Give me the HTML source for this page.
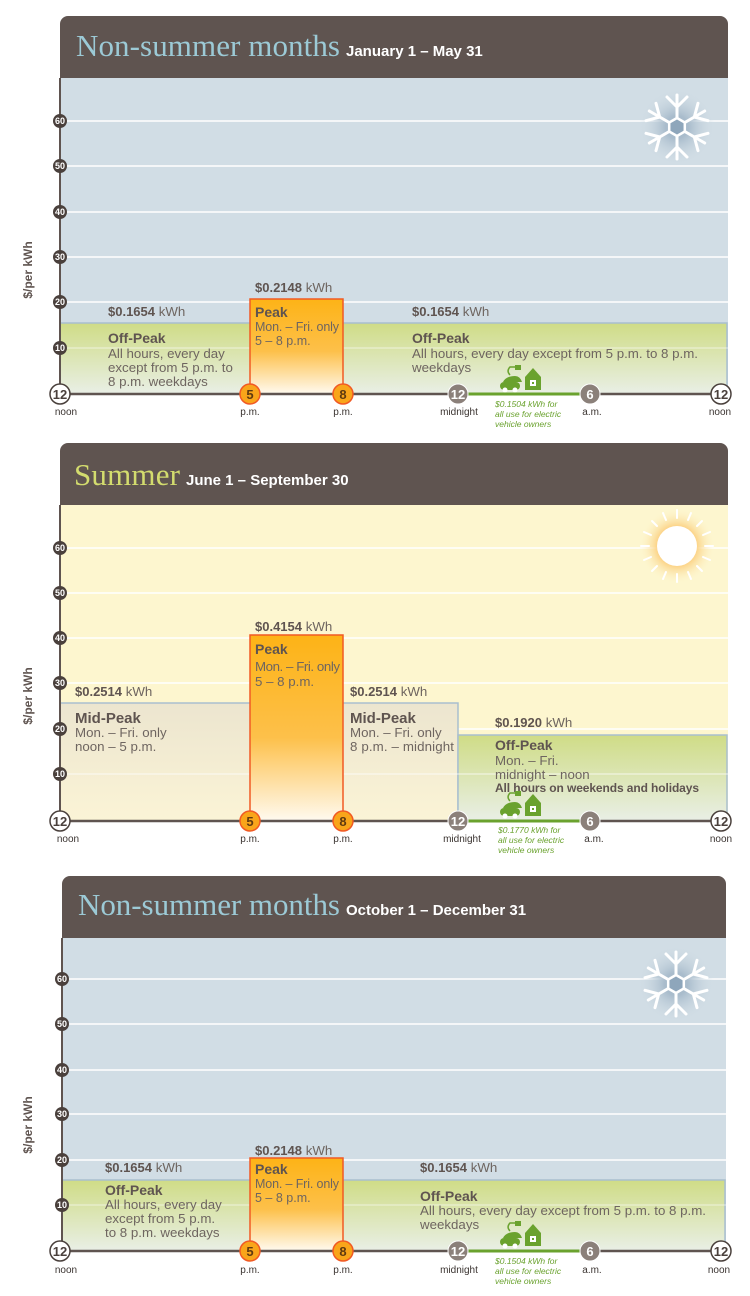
<!DOCTYPE html>
<html><head><meta charset="utf-8">
<style>
html,body{margin:0;padding:0;background:#fff;}
svg{display:block;}
text{font-family:"Liberation Sans",sans-serif;}
.t{font-size:13.3px;fill:#6e6560;}
.b{font-size:13px;font-weight:bold;fill:#5f5450;}
.h{font-size:14px;font-weight:bold;fill:#5f5450;}
.sm{font-size:10px;fill:#3a3330;}
.g{font-size:8.5px;fill:#6aa22e;font-style:italic;}
.ax{font-size:9px;font-weight:bold;fill:#fff;}
.ttl{font-family:"Liberation Serif",serif;font-size:31px;}
.sub{font-size:15px;font-weight:bold;fill:#fff;}
</style></head><body>
<svg width="750" height="1296" viewBox="0 0 750 1296" xmlns="http://www.w3.org/2000/svg">
<defs>
<linearGradient id="grn" x1="0" y1="0" x2="0" y2="1"><stop offset="0" stop-color="#cfdc86"/><stop offset="1" stop-color="#e9efe6"/></linearGradient>
<linearGradient id="org" x1="0" y1="0" x2="0" y2="1"><stop offset="0" stop-color="#fdb316"/><stop offset="0.55" stop-color="#fdc04a"/><stop offset="1" stop-color="#fffaf0"/></linearGradient>
<linearGradient id="mid" x1="0" y1="0" x2="0" y2="1"><stop offset="0" stop-color="#ece5cf"/><stop offset="1" stop-color="#fbf4d6"/></linearGradient>
<radialGradient id="glow"><stop offset="0.3" stop-color="#a9bccc"/><stop offset="1" stop-color="#d1dde5" stop-opacity="0"/></radialGradient>
<radialGradient id="sglow"><stop offset="0.45" stop-color="#fbc870"/><stop offset="1" stop-color="#fdf6cf" stop-opacity="0"/></radialGradient>
<g id="flake" stroke="#fff" stroke-width="3" stroke-linecap="round" fill="none">
<circle r="38" fill="url(#glow)" stroke="none"/>
<polygon points="0,-9 7.8,-4.5 7.8,4.5 0,9 -7.8,4.5 -7.8,-4.5" fill="#8ea6bb" stroke-width="2.5"/>
<g id="arm"><line x1="0" y1="-9" x2="0" y2="-32"/><line x1="0" y1="-20" x2="-10" y2="-30"/><line x1="0" y1="-20" x2="10" y2="-30"/></g>
<use href="#arm" transform="rotate(60)"/><use href="#arm" transform="rotate(120)"/><use href="#arm" transform="rotate(180)"/><use href="#arm" transform="rotate(240)"/><use href="#arm" transform="rotate(300)"/>
</g>
<g id="ev">
<rect x="-22" y="-10" width="20" height="8" rx="4" fill="#6aa22e"/>
<path d="M-19,-10 q3,-6 12,-6 q5,0 7,6z" fill="#6aa22e"/>
<circle cx="-17" cy="-2" r="2.5" fill="#fff"/><circle cx="-7" cy="-2" r="2.5" fill="#fff"/>
<path d="M-12,-17 q-4,-4 0,-8 h6" stroke="#6aa22e" stroke-width="1.5" fill="none"/>
<rect x="-7" y="-27" width="6" height="5" fill="#6aa22e"/>
<path d="M3,-2 v-13 l8,-9 l8,9 v13z" fill="#6aa22e"/>
<rect x="8" y="-12" width="6" height="6" fill="#fff"/><rect x="10" y="-10" width="2" height="2" fill="#6aa22e"/>
</g>
</defs>

<!-- ============ PANEL 1 ============ -->
<path d="M60,78 V24 a8,8 0 0 1 8,-8 H720 a8,8 0 0 1 8,8 V78z" fill="#5f5450"/>
<text x="76" y="56" class="ttl" fill="#9ccad6" textLength="264">Non-summer months</text>
<text x="346" y="56" class="sub">January 1 – May 31</text>
<rect x="60" y="78" width="668" height="316" fill="#d1dde5"/>
<g stroke="#fff" stroke-width="1.5"><line x1="60" y1="121" x2="728" y2="121"/><line x1="60" y1="166" x2="728" y2="166"/><line x1="60" y1="212" x2="728" y2="212"/><line x1="60" y1="257" x2="728" y2="257"/><line x1="60" y1="302" x2="728" y2="302"/></g>
<rect x="60" y="323" width="667" height="71" fill="url(#grn)" stroke="#a9bfcf" stroke-width="1.5"/>
<line x1="60" y1="348" x2="728" y2="348" stroke="#fff" stroke-opacity="0.4" stroke-width="1.5"/>
<rect x="250" y="299" width="93" height="95" fill="url(#org)" stroke="#f15a24" stroke-width="1.5"/>
<use href="#flake" x="677" y="127"/>
<text x="108" y="316" class="t"><tspan class="b">$0.1654</tspan> kWh</text>
<text x="255" y="292" class="t"><tspan class="b">$0.2148</tspan> kWh</text>
<text x="412" y="316" class="t"><tspan class="b">$0.1654</tspan> kWh</text>
<text x="108" y="343" class="h">Off-Peak</text>
<text x="108" y="358" class="t">All hours, every day</text>
<text x="108" y="372" class="t">except from 5 p.m. to</text>
<text x="108" y="386" class="t">8 p.m. weekdays</text>
<text x="255" y="317" class="h">Peak</text>
<text x="255" y="331" class="t" style="font-size:12.5px" textLength="84">Mon. – Fri. only</text>
<text x="255" y="345" class="t" style="font-size:12.5px">5 – 8 p.m.</text>
<text x="412" y="343" class="h">Off-Peak</text>
<text x="412" y="358" class="t">All hours, every day except from 5 p.m. to 8 p.m.</text>
<text x="412" y="372" class="t">weekdays</text>
<line x1="60" y1="394" x2="728" y2="394" stroke="#5f5450" stroke-width="2.5"/>
<line x1="60" y1="78" x2="60" y2="394" stroke="#5f5450" stroke-width="2"/>
<line x1="458" y1="394" x2="590" y2="394" stroke="#6aa22e" stroke-width="3"/>
<use href="#ev" x="522" y="392"/>
<text x="495" y="407" class="g">$0.1504 kWh for</text><text x="495" y="417" class="g">all use for electric</text><text x="495" y="427" class="g">vehicle owners</text>

<!-- ============ PANEL 2 ============ -->
<path d="M60,505 V451 a8,8 0 0 1 8,-8 H720 a8,8 0 0 1 8,8 V505z" fill="#5f5450"/>
<text x="74" y="485" class="ttl" fill="#d3dc6e" textLength="106">Summer</text>
<text x="186" y="485" class="sub">June 1 – September 30</text>
<rect x="60" y="505" width="668" height="316" fill="#fdf6cf"/>
<g stroke="#fff" stroke-width="1.5"><line x1="60" y1="548" x2="728" y2="548"/><line x1="60" y1="593" x2="728" y2="593"/><line x1="60" y1="638" x2="728" y2="638"/><line x1="60" y1="683" x2="728" y2="683"/><line x1="60" y1="729" x2="728" y2="729"/></g>
<rect x="60" y="703" width="398" height="118" fill="url(#mid)" stroke="#a9bfcf" stroke-width="1.5"/>
<rect x="458" y="735" width="269" height="86" fill="url(#grn)" stroke="#a9bfcf" stroke-width="1.5"/>
<line x1="60" y1="774" x2="728" y2="774" stroke="#fff" stroke-opacity="0.5" stroke-width="1.5"/>
<rect x="250" y="635" width="93" height="186" fill="url(#org)" stroke="#f15a24" stroke-width="1.5"/>
<circle cx="677" cy="546" r="38" fill="url(#sglow)"/>
<g stroke="#fff" stroke-width="2" stroke-linecap="round">
<line x1="677" y1="510" x2="677" y2="518"/><line x1="677" y1="574" x2="677" y2="582"/><line x1="641" y1="546" x2="649" y2="546"/><line x1="705" y1="546" x2="713" y2="546"/>
<line x1="652" y1="521" x2="657" y2="526"/><line x1="697" y1="566" x2="702" y2="571"/><line x1="702" y1="521" x2="697" y2="526"/><line x1="657" y1="566" x2="652" y2="571"/>
<line x1="663" y1="513" x2="666" y2="520"/><line x1="691" y1="513" x2="688" y2="520"/><line x1="663" y1="579" x2="666" y2="572"/><line x1="691" y1="579" x2="688" y2="572"/>
<line x1="644" y1="532" x2="651" y2="535"/><line x1="644" y1="560" x2="651" y2="557"/><line x1="710" y1="532" x2="703" y2="535"/><line x1="710" y1="560" x2="703" y2="557"/>
</g>
<circle cx="677" cy="546" r="20" fill="#fff"/>
<text x="75" y="696" class="t"><tspan class="b">$0.2514</tspan> kWh</text>
<text x="255" y="631" class="t"><tspan class="b">$0.4154</tspan> kWh</text>
<text x="350" y="696" class="t"><tspan class="b">$0.2514</tspan> kWh</text>
<text x="495" y="727" class="t"><tspan class="b">$0.1920</tspan> kWh</text>
<text x="75" y="723" class="h" style="font-size:15px">Mid-Peak</text>
<text x="75" y="737" class="t">Mon. – Fri. only</text>
<text x="75" y="751" class="t">noon – 5 p.m.</text>
<text x="255" y="654" class="h">Peak</text>
<text x="255" y="671" class="t" textLength="85">Mon. – Fri. only</text>
<text x="255" y="686" class="t">5 – 8 p.m.</text>
<text x="350" y="723" class="h" style="font-size:15px">Mid-Peak</text>
<text x="350" y="737" class="t">Mon. – Fri. only</text>
<text x="350" y="751" class="t" textLength="104">8 p.m. – midnight</text>
<text x="495" y="750" class="h">Off-Peak</text>
<text x="495" y="765" class="t">Mon. – Fri.</text>
<text x="495" y="779" class="t">midnight  – noon</text>
<text x="495" y="792" class="h" style="font-size:12px" textLength="204">All hours on weekends and holidays</text>
<line x1="60" y1="821" x2="728" y2="821" stroke="#5f5450" stroke-width="2.5"/>
<line x1="60" y1="505" x2="60" y2="821" stroke="#5f5450" stroke-width="2"/>
<line x1="458" y1="821" x2="590" y2="821" stroke="#6aa22e" stroke-width="3"/>
<use href="#ev" x="522" y="818"/>
<text x="498" y="833" class="g">$0.1770 kWh for</text><text x="498" y="843" class="g">all use for electric</text><text x="498" y="853" class="g">vehicle owners</text>

<!-- ============ PANEL 3 ============ -->
<path d="M62,938 V884 a8,8 0 0 1 8,-8 H718 a8,8 0 0 1 8,8 V938z" fill="#5f5450"/>
<text x="78" y="915" class="ttl" fill="#9ccad6" textLength="262">Non-summer months</text>
<text x="346" y="915" class="sub">October 1 – December 31</text>
<rect x="62" y="938" width="664" height="313" fill="#d1dde5"/>
<g stroke="#fff" stroke-width="1.5"><line x1="62" y1="979" x2="726" y2="979"/><line x1="62" y1="1024" x2="726" y2="1024"/><line x1="62" y1="1070" x2="726" y2="1070"/><line x1="62" y1="1114" x2="726" y2="1114"/><line x1="62" y1="1160" x2="726" y2="1160"/></g>
<rect x="62" y="1180" width="663" height="71" fill="url(#grn)" stroke="#a9bfcf" stroke-width="1.5"/>
<line x1="62" y1="1205" x2="726" y2="1205" stroke="#fff" stroke-opacity="0.4" stroke-width="1.5"/>
<rect x="250" y="1158" width="93" height="93" fill="url(#org)" stroke="#f15a24" stroke-width="1.5"/>
<use href="#flake" x="676" y="984"/>
<text x="105" y="1172" class="t"><tspan class="b">$0.1654</tspan> kWh</text>
<text x="255" y="1155" class="t"><tspan class="b">$0.2148</tspan> kWh</text>
<text x="420" y="1172" class="t"><tspan class="b">$0.1654</tspan> kWh</text>
<text x="105" y="1195" class="h">Off-Peak</text>
<text x="105" y="1209" class="t">All hours, every day</text>
<text x="105" y="1223" class="t">except from 5 p.m.</text>
<text x="105" y="1237" class="t">to 8 p.m. weekdays</text>
<text x="255" y="1174" class="h">Peak</text>
<text x="255" y="1188" class="t" style="font-size:12.5px" textLength="84">Mon. – Fri. only</text>
<text x="255" y="1202" class="t" style="font-size:12.5px">5 – 8 p.m.</text>
<text x="420" y="1201" class="h">Off-Peak</text>
<text x="420" y="1215" class="t">All hours, every day except from 5 p.m. to 8 p.m.</text>
<text x="420" y="1229" class="t">weekdays</text>
<line x1="62" y1="1251" x2="726" y2="1251" stroke="#5f5450" stroke-width="2.5"/>
<line x1="62" y1="938" x2="62" y2="1251" stroke="#5f5450" stroke-width="2"/>
<line x1="458" y1="1251" x2="590" y2="1251" stroke="#6aa22e" stroke-width="3"/>
<use href="#ev" x="522" y="1248"/>
<text x="495" y="1264" class="g">$0.1504 kWh for</text><text x="495" y="1274" class="g">all use for electric</text><text x="495" y="1284" class="g">vehicle owners</text>

<!-- axis labels -->
<text transform="translate(32,270) rotate(-90)" text-anchor="middle" style="font-size:12px;font-weight:bold;fill:#5f5450">$/per kWh</text>
<text transform="translate(32,696) rotate(-90)" text-anchor="middle" style="font-size:12px;font-weight:bold;fill:#5f5450">$/per kWh</text>
<text transform="translate(32,1125) rotate(-90)" text-anchor="middle" style="font-size:12px;font-weight:bold;fill:#5f5450">$/per kWh</text>

<!-- y ticks -->
<g fill="#4a403c">
<circle cx="60" cy="121" r="7"/><circle cx="60" cy="166" r="7"/><circle cx="60" cy="212" r="7"/><circle cx="60" cy="257" r="7"/><circle cx="60" cy="302" r="7"/><circle cx="60" cy="348" r="7"/>
<circle cx="60" cy="548" r="7"/><circle cx="60" cy="593" r="7"/><circle cx="60" cy="638" r="7"/><circle cx="60" cy="683" r="7"/><circle cx="60" cy="729" r="7"/><circle cx="60" cy="774" r="7"/>
<circle cx="62" cy="979" r="7"/><circle cx="62" cy="1024" r="7"/><circle cx="62" cy="1070" r="7"/><circle cx="62" cy="1114" r="7"/><circle cx="62" cy="1160" r="7"/><circle cx="62" cy="1205" r="7"/>
</g>
<g text-anchor="middle">
<text x="60" y="124" class="ax">60</text><text x="60" y="169" class="ax">50</text><text x="60" y="215" class="ax">40</text><text x="60" y="260" class="ax">30</text><text x="60" y="305" class="ax">20</text><text x="60" y="351" class="ax">10</text>
<text x="60" y="551" class="ax">60</text><text x="60" y="596" class="ax">50</text><text x="60" y="641" class="ax">40</text><text x="60" y="686" class="ax">30</text><text x="60" y="732" class="ax">20</text><text x="60" y="777" class="ax">10</text>
<text x="62" y="982" class="ax">60</text><text x="62" y="1027" class="ax">50</text><text x="62" y="1073" class="ax">40</text><text x="62" y="1117" class="ax">30</text><text x="62" y="1163" class="ax">20</text><text x="62" y="1208" class="ax">10</text>
</g>

<!-- time markers -->
<g id="tm1">
<circle cx="60" cy="394" r="10" fill="#fff" stroke="#4a403c" stroke-width="1.5"/>
<circle cx="250" cy="394" r="10" fill="#f9a51a" stroke="#f15a24" stroke-width="1.5"/>
<circle cx="343" cy="394" r="10" fill="#f9a51a" stroke="#f15a24" stroke-width="1.5"/>
<circle cx="458" cy="394" r="10" fill="#8b807a" stroke="#fff" stroke-width="1"/>
<circle cx="590" cy="394" r="10" fill="#8b807a" stroke="#fff" stroke-width="1"/>
<circle cx="721" cy="394" r="10" fill="#fff" stroke="#4a403c" stroke-width="1.5"/>
</g>
<use href="#tm1" y="427"/>
<use href="#tm1" y="857"/>
<g text-anchor="middle" style="font-size:13px;font-weight:bold">
<text x="60" y="399" fill="#4a403c">12</text><text x="250" y="399" fill="#5f3a10">5</text><text x="343" y="399" fill="#5f3a10">8</text><text x="458" y="399" fill="#fff">12</text><text x="590" y="399" fill="#fff">6</text><text x="721" y="399" fill="#4a403c">12</text>
<text x="60" y="826" fill="#4a403c">12</text><text x="250" y="826" fill="#5f3a10">5</text><text x="343" y="826" fill="#5f3a10">8</text><text x="458" y="826" fill="#fff">12</text><text x="590" y="826" fill="#fff">6</text><text x="721" y="826" fill="#4a403c">12</text>
<text x="60" y="1256" fill="#4a403c">12</text><text x="250" y="1256" fill="#5f3a10">5</text><text x="343" y="1256" fill="#5f3a10">8</text><text x="458" y="1256" fill="#fff">12</text><text x="590" y="1256" fill="#fff">6</text><text x="721" y="1256" fill="#4a403c">12</text>
</g>
<g text-anchor="middle">
<text x="66" y="415" class="sm">noon</text><text x="250" y="415" class="sm">p.m.</text><text x="343" y="415" class="sm">p.m.</text><text x="459" y="415" class="sm">midnight</text><text x="592" y="415" class="sm">a.m.</text><text x="720" y="415" class="sm">noon</text>
<text x="68" y="842" class="sm">noon</text><text x="250" y="842" class="sm">p.m.</text><text x="343" y="842" class="sm">p.m.</text><text x="462" y="842" class="sm">midnight</text><text x="594" y="842" class="sm">a.m.</text><text x="721" y="842" class="sm">noon</text>
<text x="66" y="1273" class="sm">noon</text><text x="250" y="1273" class="sm">p.m.</text><text x="343" y="1273" class="sm">p.m.</text><text x="459" y="1273" class="sm">midnight</text><text x="592" y="1273" class="sm">a.m.</text><text x="719" y="1273" class="sm">noon</text>
</g>
</svg>
</body></html>
